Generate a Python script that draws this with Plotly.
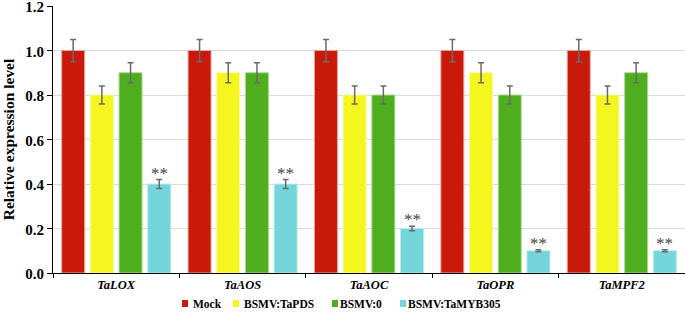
import plotly.graph_objects as go

genes = ["TaLOX", "TaAOS", "TaAOC", "TaOPR", "TaMPF2"]
series_names = ["Mock", "BSMV:TaPDS", "BSMV:0", "BSMV:TaMYB305"]
colors = ["#C8190B", "#F5F51F", "#4EAE1D", "#74D5DB"]
edge_colors = ["#E9A29C", "#F9F9A6", "#A8D98F", "#B8EAEE"]

mock = [1.0, 1.0, 1.0, 1.0, 1.0]
tapds = [0.8, 0.9, 0.8, 0.9, 0.8]
bsmv0 = [0.9, 0.9, 0.8, 0.8, 0.9]
tamyb305 = [0.4, 0.4, 0.2, 0.1, 0.1]

mock_err = [0.05, 0.05, 0.05, 0.05, 0.05]
tapds_err = [0.04, 0.045, 0.04, 0.045, 0.04]
bsmv0_err = [0.045, 0.045, 0.04, 0.04, 0.045]
tamyb305_err = [0.02, 0.02, 0.01, 0.005, 0.005]

signif = ["**", "**", "**", "**", "**"]
y_ticks = [0.0, 0.2, 0.4, 0.6, 0.8, 1.0, 1.2]

values = [mock, tapds, bsmv0, tamyb305]
errors = [mock_err, tapds_err, bsmv0_err, tamyb305_err]

W, H = 685, 313
ML, MR, MT, MB = 53, 0, 6, 40
BARGAP, BARGROUPGAP = 0.092, 0.2
SERIF = "Liberation Serif, Times New Roman, serif"
PW, PH = W - ML - MR, H - MT - MB

fig = go.Figure()
for name, col, ecol, vals, errs in zip(series_names, colors, edge_colors, values, errors):
    fig.add_trace(go.Bar(
        x=genes, y=vals, name=name,
        marker=dict(color=col, line=dict(color=ecol, width=1)),
        error_y=dict(type="data", array=errs, visible=True,
                     color="#6b6b6b", thickness=1.5, width=3),
        showlegend=False, hoverinfo="skip",
    ))

# significance marks above last series
cat_w = PW / len(genes)
slot = (1 - BARGAP) * cat_w / len(series_names)
offset = 1.5 * slot
annotations = []
for g, v, e, s in zip(genes, tamyb305, tamyb305_err, signif):
    annotations.append(dict(
        x=g, y=v + e, xref="x", yref="y", text=s, showarrow=False,
        xshift=offset, yanchor="bottom", yshift=-5,
        font=dict(family=SERIF, size=17, color="#444444"),
    ))

# manual legend
leg_sq_x = [182, 233, 332, 400]
leg_txt_x = [191, 242, 338, 406]
leg_y = 304
shapes = []
for name, col, sx, tx in zip(series_names, colors, leg_sq_x, leg_txt_x):
    shapes.append(dict(type="rect", xref="paper", yref="paper",
                       x0=(sx - ML) / PW, x1=(sx + 6 - ML) / PW,
                       y0=(H - MB - (leg_y + 3)) / PH,
                       y1=(H - MB - (leg_y - 4)) / PH,
                       fillcolor=col, line=dict(width=0)))
    annotations.append(dict(
        x=(tx - ML) / PW, y=(H - MB - leg_y) / PH,
        xref="paper", yref="paper", xanchor="left", yanchor="middle",
        text="<b>%s</b>" % name, showarrow=False,
        font=dict(family=SERIF, size=11.5, color="#000000"),
    ))

fig.update_layout(
    width=W, height=H,
    margin=dict(l=ML, r=MR, t=MT, b=MB, autoexpand=False),
    barmode="group", bargap=BARGAP, bargroupgap=BARGROUPGAP,
    plot_bgcolor="white", paper_bgcolor="white",
    annotations=annotations, shapes=shapes,
    xaxis=dict(
        automargin=False,
        tickmode="array", tickvals=genes,
        ticktext=["<b><i>%s</i></b>" % g for g in genes],
        tickfont=dict(family=SERIF, size=12.5, color="#000000"),
        showline=True, linecolor="#000000", linewidth=1,
        ticks="outside", tickson="boundaries", ticklen=4, tickcolor="#000000",
        showgrid=False,
    ),
    yaxis=dict(
        automargin=False,
        range=[0, 1.2001], tickmode="array", tickvals=y_ticks,
        ticktext=["<b>%.1f</b>" % t for t in y_ticks],
        tickfont=dict(family=SERIF, size=15, color="#000000"),
        ticklabeloverflow="allow", ticklabelshift=1,
        showline=True, linecolor="#000000", linewidth=1,
        ticks="outside", ticklen=5, tickcolor="#000000",
        showgrid=True, gridcolor="#dcdcdc", gridwidth=1,
        zeroline=False,
        title=dict(text="<b>Relative expression level</b>",
                   font=dict(family=SERIF, size=15.5, color="#000000"), standoff=9),
    ),
)

fig.write_html("out.html", config={"displayModeBar": False},
               post_script="document.body.style.margin='0';document.body.style.overflow='hidden';")
